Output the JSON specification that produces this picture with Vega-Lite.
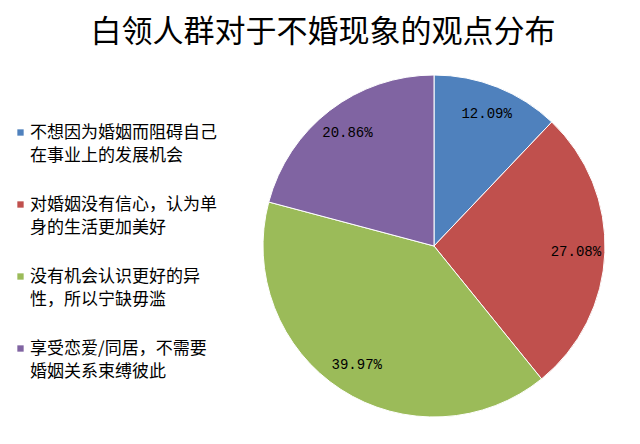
{
  "$schema": "https://vega.github.io/schema/vega-lite/v6.json",
  "width": 342,
  "height": 342,
  "autosize": "none",
  "padding": {"left": 263, "top": 75, "right": 35, "bottom": 27},
  "background": "white",
  "title": {
    "text": "白领人群对于不婚现象的观点分布",
    "font": "Noto Sans CJK SC",
    "fontSize": 31,
    "fontWeight": "normal",
    "color": "#000000",
    "anchor": "middle",
    "dx": -111,
    "offset": 24
  },
  "data": {
    "values": [
      {"idx": 1, "cat": "不想因为婚姻而阻碍自己在事业上的发展机会", "pct": 0.1209},
      {"idx": 2, "cat": "对婚姻没有信心，认为单身的生活更加美好", "pct": 0.2708},
      {"idx": 3, "cat": "没有机会认识更好的异性，所以宁缺毋滥", "pct": 0.3997},
      {"idx": 4, "cat": "享受恋爱/同居，不需要婚姻关系束缚彼此", "pct": 0.2086}
    ]
  },
  "encoding": {
    "theta": {"field": "pct", "type": "quantitative", "stack": true},
    "order": {"field": "idx", "type": "quantitative"}
  },
  "layer": [
    {
      "mark": {"type": "arc", "stroke": "white", "strokeWidth": 1},
      "encoding": {
        "color": {
          "field": "cat",
          "type": "nominal",
          "sort": ["不想因为婚姻而阻碍自己在事业上的发展机会", "对婚姻没有信心，认为单身的生活更加美好", "没有机会认识更好的异性，所以宁缺毋滥", "享受恋爱/同居，不需要婚姻关系束缚彼此"],
          "scale": {
            "domain": ["不想因为婚姻而阻碍自己在事业上的发展机会", "对婚姻没有信心，认为单身的生活更加美好", "没有机会认识更好的异性，所以宁缺毋滥", "享受恋爱/同居，不需要婚姻关系束缚彼此"],
            "range": ["#4F81BD", "#C0504D", "#9BBB59", "#8064A2"]
          },
          "legend": {
            "title": null,
            "orient": "none",
            "legendX": -251,
            "legendY": 49,
            "symbolType": "square",
            "symbolSize": 40,
            "symbolStrokeWidth": 0,
            "labelFont": "Noto Sans CJK SC",
            "labelFontSize": 17,
            "labelColor": "#000000",
            "labelLimit": 0,
            "labelOffset": 1,
            "rowPadding": 31,
            "labelExpr": "indexof(datum.label, '异性') >= 0 ? [slice(datum.label, 0, 10), slice(datum.label, 10)] : [slice(datum.label, 0, 11), slice(datum.label, 11)]"
          }
        }
      }
    },
    {
      "mark": {"type": "text", "radius": 142, "font": "Liberation Mono", "fontSize": 14, "fill": "#000000"},
      "encoding": {
        "text": {"field": "pct", "type": "quantitative", "format": ".2%"}
      }
    }
  ],
  "config": {
    "view": {"stroke": null},
    "style": {"guide-label": {"lineHeight": 23}}
  }
}
